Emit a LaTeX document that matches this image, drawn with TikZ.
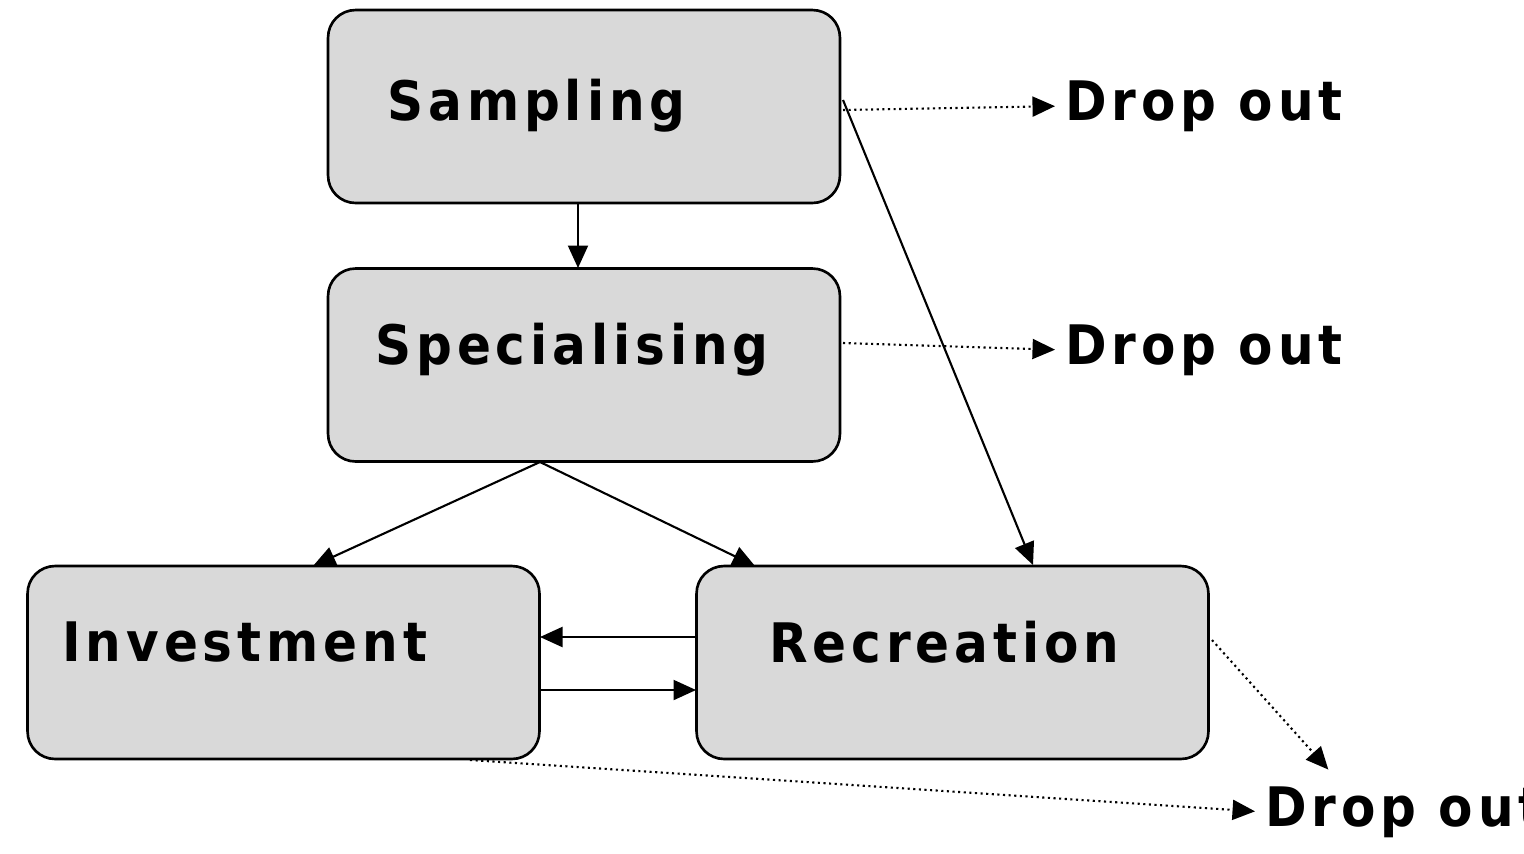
\documentclass[tikz,border=0pt]{standalone}
\usepackage{fontspec}
\setmainfont{DejaVu Sans}[LetterSpace=9, FakeStretch=0.92]
\usetikzlibrary{arrows.meta}
\begin{document}
\begin{tikzpicture}[x=0.02cm, y=-0.02cm,
    stage/.style={draw, line width=1.5pt, rounded corners=0.55cm, fill=black!15, minimum width=10.24cm, minimum height=3.86cm},
    stagetext/.style={anchor=west, inner sep=0pt, font=\fontsize{31}{34}\selectfont\bfseries},
    flow/.style={line width=1.2pt, -{Triangle[length=0.45cm, width=0.4cm]}},
    leave/.style={line width=1.2pt, dotted, shorten >=0.2cm, -{Triangle[length=0.45cm, width=0.4cm]}}]
    \useasboundingbox (0,0) rectangle (1524,853);
    % Stages
    \node[stage] (sampling) at (584,106.5) {};
    \node[stage] (special) at (584,365) {};
    \node[stage] (invest) at (283.5,662.5) {};
    \node[stage] (recreat) at (952.5,662.5) {};
    \node[stagetext] (tsampling) at (387,106) {Sampling};
    \node[stagetext] (tspecial) at (375,350) {Specialising};
    \node[stagetext] (tinvest) at (62,642) {Investment};
    \node[stagetext] (trecreat) at (769,642) {Recreation};

    % Drop out labels
    \node[stagetext] (drop1) at (1065,106) {Drop out};
    \node[stagetext] (drop2) at (1065,350) {Drop out};
    \node[stagetext] (drop3) at (1265,812) {Drop out};

    % Connections
    \draw[flow] (578,203) -- (578,268);
    \draw[flow] (843,100) -- (1033,565);
    \draw[flow] (540,462) -- (313,566);
    \draw[flow] (540,462) -- (755,566);
    \draw[flow] (696,637) -- (540,637);
    \draw[flow] (540,690) -- (696,690);

    % Leaving the sport
    \draw[leave] (843,110) -- (drop1.west);
    \draw[leave] (843,343) -- (drop2.west);
    \draw[leave] (1212,640) -- (1335,777);
    \draw[leave] (470,760) -- (drop3.west);
\end{tikzpicture}
\end{document}
